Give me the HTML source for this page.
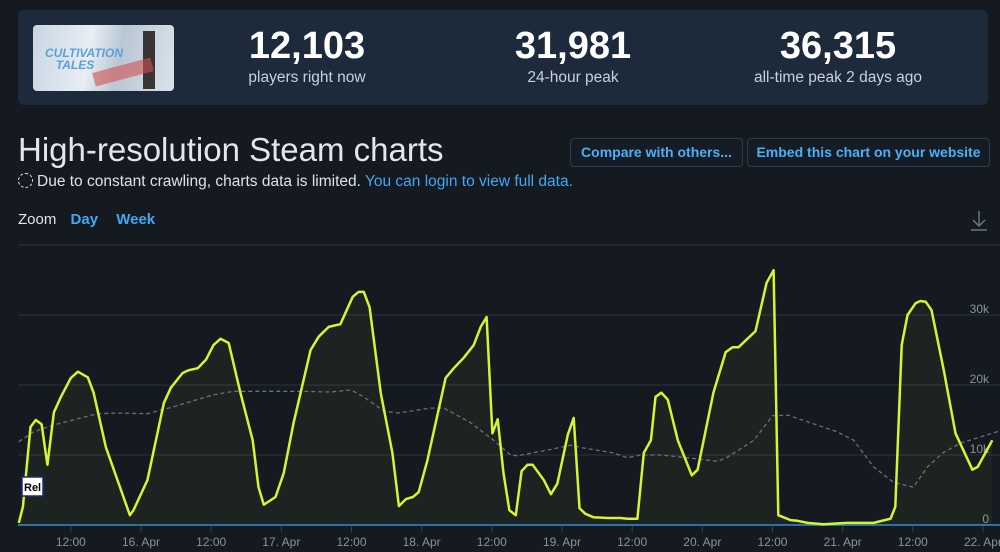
<!DOCTYPE html>
<html><head><meta charset="utf-8">
<style>
body{margin:0;width:1000px;height:552px;background:#151920;font-family:"Liberation Sans",sans-serif;overflow:hidden;position:relative;color:#dfe3e8}
.card{position:absolute;left:18px;top:10px;width:970px;height:95px;background:#1c2a3c;border-radius:6px}
.thumb{position:absolute;left:15px;top:15px;width:141px;height:66px;border-radius:4px;background:linear-gradient(100deg,#c8d6e2 0%,#e8eef3 40%,#b9c7d3 60%,#d9e2ea 100%);overflow:hidden}
.stat{position:absolute;top:15px;width:220px;text-align:center}
.stat b{display:block;font-size:38px;color:#fff;line-height:42px}
.stat span{display:block;font-size:15.5px;color:#c9d1da;margin-top:2px}
.title{position:absolute;left:18px;top:131px;font-size:33px;color:#e3e6ea}
.btn{position:absolute;top:138px;height:27px;border:1px solid #2f3b4c;border-radius:4px;color:#4bb0f5;font-weight:bold;font-size:14px;line-height:27px;text-align:center;background:#161c26}
.sub{position:absolute;left:18px;top:173px;font-size:15.5px;color:#dfe3e8}
.sub a{color:#3fa9f5;text-decoration:none}
.zoom{position:absolute;left:18px;top:211px;font-size:15px}
.zoom a{color:#3fa9f5;font-weight:bold;margin-left:10px;text-decoration:none}
svg{position:absolute;left:0;top:0}
</style></head><body>
<div class="card">
 <div class="thumb">
  <div style="position:absolute;left:12px;top:22px;color:#5aa0d8;font-weight:bold;font-style:italic;font-size:12px;line-height:12px;text-align:center;width:60px">CULTIVATION TALES</div>
  <div style="position:absolute;left:110px;top:6px;width:12px;height:58px;background:#3a3535"></div>
  <div style="position:absolute;left:60px;top:40px;width:60px;height:14px;background:#d05050;opacity:.6;transform:rotate(-15deg)"></div>
 </div>
 <div class="stat" style="left:179px"><b>12,103</b><span>players right now</span></div>
 <div class="stat" style="left:445px"><b>31,981</b><span>24-hour peak</span></div>
 <div class="stat" style="left:710px"><b>36,315</b><span>all-time peak 2 days ago</span></div>
</div>
<div class="title">High-resolution Steam charts</div>
<div class="btn" style="left:570px;width:171px">Compare with others...</div>
<div class="btn" style="left:747px;width:241px">Embed this chart on your website</div>
<div class="sub"><span style="display:inline-block;width:13px;height:13px;border:1.5px dashed #dfe3e8;border-radius:50%;vertical-align:-2px;margin-right:4px"></span>Due to constant crawling, charts data is limited. <a>You can login to view full data.</a></div>
<div class="zoom">Zoom <a>Day</a> <a style="margin-left:14px">Week</a></div>
<svg id="chart" width="1000" height="552"></svg>
<script>
const yTicks=[0,10,20,30,40];
const yTickLabels=["0","10k","20k","30k",""];
const xTickHours=[12,24,36,48,60,72,84,96,108,120,132,144,156,168];
const xTickLabels=["12:00","16. Apr","12:00","17. Apr","12:00","18. Apr","12:00","19. Apr","12:00","20. Apr","12:00","21. Apr","12:00","22. Apr"];
const playerHours=[3.1,3.8,5.1,6.0,7.0,8.0,9.1,10.3,12.0,13.2,14.9,15.9,18.0,22.1,22.7,25.1,27.9,29.1,31.1,32.1,33.7,35.1,36.4,37.6,39.0,41.0,43.1,44.1,45.0,47.0,48.4,50.1,53.0,54.4,56.1,58.1,60.2,61.2,62.1,63.1,65.0,67.0,68.1,69.3,70.5,71.5,73.0,76.1,77.5,79.2,80.9,82.1,83.1,84.1,85.0,86.0,87.0,88.1,89.1,90.1,91.0,92.9,94.1,95.2,97.0,98.0,99.0,100.0,101.4,103.8,106.0,107.2,108.9,110.0,111.2,112.0,113.0,114.1,115.8,118.2,119.2,121.9,124.0,125.2,126.2,129.1,131.0,132.2,133.0,135.1,136.3,138.0,140.7,144.8,149.3,152.2,153.0,154.1,155.1,156.5,157.3,158.2,159.2,161.3,163.3,166.2,167.1,169.6];
const playerValues=[0.3,2.6,14,15,14.4,8.6,16.1,18.3,21,21.9,21.1,18.9,11.1,1.4,2.1,6.4,17.4,19.6,21.7,22.1,22.4,23.6,25.7,26.6,26,18.9,12.1,5.4,2.9,4,7.4,14.6,25,26.9,28.3,28.7,32.6,33.3,33.3,31.1,18.9,10.3,2.7,3.7,4,4.7,9.3,21,22.4,23.9,25.7,28.3,29.7,13.1,15.1,7.4,2.1,1.4,7.7,8.6,8.6,6.4,4.4,5.9,12.9,15.3,2.4,1.6,1.1,1,1,0.9,0.9,10.3,12.1,18.3,18.9,17.9,12.1,7.1,7.9,18.9,24.7,25.4,25.4,27.7,34.6,36.4,1.4,0.7,0.6,0.3,0.1,0.3,0.3,0.9,2.6,25.7,30,31.7,32,31.9,30.7,22.1,13.1,7.9,8.3,12.1];
const avgHours=[3.1,5.6,9.1,16.6,20.0,25.1,29.6,36.4,39.8,43.3,51.3,56.4,59.9,62.1,65.5,67.9,73.5,75.8,80.4,84.3,87.2,88.4,92.9,97.5,99.7,104.8,107.2,109.4,112.9,117.5,122.6,124.3,128.8,132.0,134.6,138.5,143.1,145.9,149.3,152.7,156.1,158.5,161.3,164.2,170.7];
const avgValues=[11.9,13.3,14.3,15.9,16,15.9,16.9,18.6,19.1,19.1,19.1,19,19.3,18.3,16.3,16,16.7,16.7,14.6,12.1,10,9.9,10.6,11.4,11,10.3,9.6,10,10,9.6,9.1,9.7,12.1,15.6,15.7,14.6,13.3,12.1,8.3,6.1,5.4,8.3,10.4,11.7,13.4];
const X=h=>0.67+h*5.847;
const Y=v=>525-v*7;
const NS="http://www.w3.org/2000/svg";
const svg=document.getElementById('chart');
function mk(t,a){const e=document.createElementNS(NS,t);for(const k in a)e.setAttribute(k,a[k]);svg.appendChild(e);return e;}
yTicks.forEach((v,i)=>{
 const g=mk('line',{x1:18,x2:1000,y1:Y(v),y2:Y(v),stroke:i==0?'#2a6fa8':'#2c323c','stroke-width':i==0?2:1});
 
 
 if(yTickLabels[i]){const t=mk('text',{x:989,y:Y(v)-2,'text-anchor':'end','font-size':12,fill:'#8a939e','font-family':'Liberation Sans, sans-serif'});t.textContent=yTickLabels[i];
 
 }
});
xTickHours.forEach((h,i)=>{
 const l=mk('line',{x1:X(h),x2:X(h),y1:526,y2:532,stroke:'#3a4250'});
 
 
 const t=mk('text',{x:X(h),y:546,'text-anchor':'middle','font-size':12,fill:'#8a939e','font-family':'Liberation Sans, sans-serif'});t.textContent=xTickLabels[i];
 
 
});
let pts=playerHours.map((h,i)=>X(h).toFixed(1)+','+Y(playerValues[i]).toFixed(1));
const area=mk('path',{d:'M'+X(playerHours[0])+',525 L'+pts.join(' L')+' L'+X(playerHours[playerHours.length-1])+',525 Z',fill:'rgba(200,240,60,0.05)'});


const avg=mk('polyline',{points:avgHours.map((h,i)=>X(h).toFixed(1)+','+Y(avgValues[i]).toFixed(1)).join(' '),fill:'none',stroke:'#6b7078','stroke-width':1.3,'stroke-dasharray':'4,3'});


const pl=mk('polyline',{points:pts.join(' '),fill:'none',stroke:'#d4f531','stroke-width':2.5,'stroke-linejoin':'round'});


const r=mk('rect',{x:22,y:477,width:21,height:19,fill:'#fff',stroke:'#1a2a7a','stroke-width':1.5});


const rt=mk('text',{x:24,y:491,'font-size':11,'font-weight':'bold',fill:'#000','font-family':'Liberation Sans, sans-serif'});rt.textContent='Rel';


const dl=mk('path',{d:'M979 211 V226 M973 220 L979 226 L985 220 M971 230 H987',stroke:'#6b7280','stroke-width':1.5,fill:'none'});


</script>
</body></html>
